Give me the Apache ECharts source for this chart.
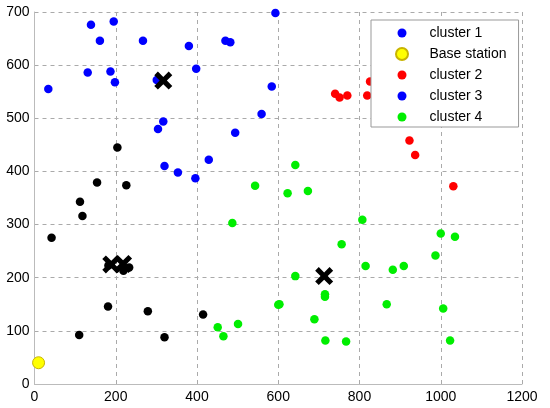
<!DOCTYPE html>
<html><head><meta charset="utf-8">
<script src="https://cdn.jsdelivr.net/npm/echarts@6/dist/echarts.min.js"></script>
<style>html,body{margin:0;padding:0;background:#fff}#c{width:550px;height:408px}</style>
</head><body><div id="c"></div>
<script>
var xTicks = [0, 200, 400, 600, 800, 1000, 1200];
var yTicks = [0, 100, 200, 300, 400, 500, 600, 700];

var cluster1 = [[34,555],[139,676],[195,682],[161,646],[131,586],[187,588],[198,568],[267,646],[380,636],[398,593],[301,572],[470,646],[482,643],[593,698],[584,560],[559,508],[494,473],[317,494],[304,480],[320,410],[353,398],[396,387],[429,422]];
var baseStation = [[10,40]];
var cluster2 = [[740,546],[751,539],[770,543],[819,543],[826,569],[923,458],[937,431],[1031,372]];
var cluster3 = [[204,445],[154,379],[226,374],[112,343],[118,316],[42,275],[182,223],[219,213],[233,219],[181,146],[279,137],[110,92],[320,88],[415,131]];
var cluster4 = [[543,373],[642,412],[623,359],[673,363],[487,303],[451,107],[465,90],[501,113],[600,149],[603,150],[807,309],[756,263],[642,203],[715,169],[715,164],[689,122],[716,82],[767,80],[815,222],[867,150],[882,215],[909,222],[987,242],[1000,283],[1035,277],[1006,142],[1023,82]];
var centroids = [[317,571],[189,225],[218,226],[713,203]];

var X_PATH = 'path://M0,4 L4,0 L10,6 L16,0 L20,4 L14,10 L20,16 L16,20 L10,14 L4,20 L0,16 L6,10 Z';
var SMALL_DOT = 'path://M0,0 L0,0 M12,12 L12,12 M10.5,6 A4.5,4.5 0 1 1 1.5,6 A4.5,4.5 0 1 1 10.5,6 Z';

var chart = echarts.init(document.getElementById('c'));
var ptSize = 8.5;
chart.setOption({
  animation: false,
  backgroundColor: '#fff',
  grid: {left: 34.5, right: 28, top: 12, bottom: 24, containLabel: false},
  xAxis: {
    type: 'value', min: 0, max: 1200, interval: 200,
    axisLine: {show: true, lineStyle: {color: '#bbb', width: 1}},
    axisTick: {show: false},
    axisLabel: {color: '#000', fontSize: 14, fontFamily: 'Liberation Sans, Arial', margin: 6,
      formatter: function (v) { return String(v); }},
    splitLine: {show: true, lineStyle: {color: '#aaa', type: [4, 4], width: 1}}
  },
  yAxis: {
    type: 'value', min: 0, max: 700, interval: 100,
    axisLine: {show: true, lineStyle: {color: '#bbb', width: 1}},
    axisTick: {show: false},
    axisLabel: {color: '#000', fontSize: 14, fontFamily: 'Liberation Sans, Arial', margin: 5,
      formatter: function (v) { return String(v); }},
    splitLine: {show: true, lineStyle: {color: '#aaa', type: [4, 4], width: 1}}
  },
  legend: {
    orient: 'vertical', left: 371, top: 20,
    padding: [6, 12, 3, 24],
    itemWidth: 45, itemHeight: 12, itemGap: 7,
    backgroundColor: '#fff', borderColor: '#999', borderWidth: 1,
    textStyle: {color: '#000', fontSize: 14, fontFamily: 'Liberation Sans, Arial', lineHeight: 14},
    data: [
      {name: 'cluster 1', icon: SMALL_DOT, itemStyle: {color: '#0000ff'}},
      {name: 'Base station', icon: 'circle'},
      {name: 'cluster 2', icon: SMALL_DOT},
      {name: 'cluster 3', icon: SMALL_DOT, itemStyle: {color: '#0000ff'}},
      {name: 'cluster 4', icon: SMALL_DOT}
    ]
  },
  series: [
    {name: 'cluster 1', type: 'scatter', data: cluster1, symbolSize: ptSize, itemStyle: {color: '#0000ff', opacity: 1}, z: 3},
    {name: 'Base station', type: 'scatter', data: baseStation, symbolSize: 12, itemStyle: {color: '#ffff00', borderColor: '#c8b400', borderWidth: 1, opacity: 1}, z: 3},
    {name: 'cluster 2', type: 'scatter', data: cluster2, symbolSize: ptSize, itemStyle: {color: '#ff0000', opacity: 1}, z: 3},
    {name: 'cluster 3', type: 'scatter', data: cluster3, symbolSize: ptSize, itemStyle: {color: '#000000', opacity: 1}, z: 3},
    {name: 'cluster 4', type: 'scatter', data: cluster4, symbolSize: ptSize, itemStyle: {color: '#00ee00', opacity: 1}, z: 3},
    {name: 'centroids', type: 'scatter', data: centroids, symbol: X_PATH, symbolSize: 18, itemStyle: {color: '#000', opacity: 1}, z: 4}
  ]
});
</script></body></html>
